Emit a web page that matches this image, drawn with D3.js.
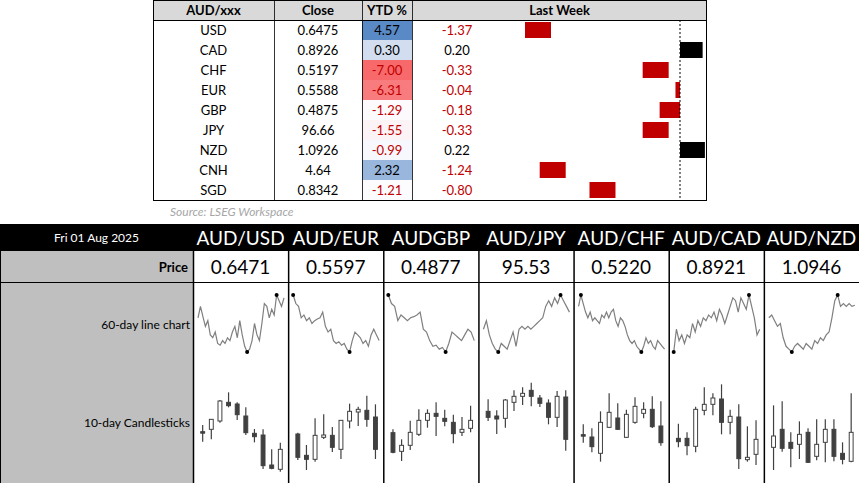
<!DOCTYPE html>
<html>
<head>
<meta charset="utf-8">
<script src="https://cdn.jsdelivr.net/npm/d3@7"></script>
<style>
  body { margin: 0; background: #fff; }
  svg { display: block; font-family: Lato, "Open Sans", sans-serif; }
</style>
</head>
<body>
<svg id="chart" width="859" height="483"></svg>
<script>
// top table
const ccys = ['USD', 'CAD', 'CHF', 'EUR', 'GBP', 'JPY', 'NZD', 'CNH', 'SGD']
const closes = ['0.6475', '0.8926', '0.5197', '0.5588', '0.4875', '96.66', '1.0926', '4.64', '0.8342']
const ytd = [4.57, 0.30, -7.00, -6.31, -1.29, -1.55, -0.99, 2.32, -1.21]
const lastWeek = [-1.37, 0.20, -0.33, -0.04, -0.18, -0.33, 0.22, -1.24, -0.80]

// bottom panel
const pairs = ['AUD/USD', 'AUD/EUR', 'AUDGBP', 'AUD/JPY', 'AUD/CHF', 'AUD/CAD', 'AUD/NZD']
const prices = ['0.6471', '0.5597', '0.4877', '95.53', '0.5220', '0.8921', '1.0946']
const dateLabel = 'Fri 01 Aug 2025'

// 60-day lines, relative level (0 = low of period, 100 = high)
const lines = [
  [60, 80, 62, 45, 55, 30, 25, 35, 15, 12, 20, 15, 25, 20, 35, 45, 25, 55, 30, 10, 0, 5, 20, 50, 30, 20, 50, 85, 80, 60, 75, 65, 100, 90, 80, 95],
  [100, 85, 80, 60, 65, 55, 60, 50, 55, 58, 60, 70, 45, 35, 40, 20, 15, 18, 12, 15, 5, 0, 20, 35, 30, 25, 15, 20, 10, 30, 40, 30, 20],
  [100, 85, 80, 55, 65, 60, 55, 60, 62, 65, 70, 40, 35, 20, 10, 12, 5, 8, 0, 15, 35, 30, 25, 20, 30, 40, 35, 20],
  [40, 55, 30, 15, 5, 0, 15, 10, 5, 20, 35, 10, 40, 45, 40, 45, 40, 45, 50, 55, 60, 80, 90, 80, 95, 85, 100, 90, 80, 70],
  [80, 100, 85, 70, 60, 70, 55, 60, 55, 50, 65, 60, 70, 60, 70, 75, 55, 45, 60, 55, 45, 30, 20, 15, 20, 10, 5, 0, 10, 25, 15, 20, 10, 5, 20, 15, 10, 5],
  [0, 40, 20, 30, 15, 30, 25, 50, 35, 55, 45, 60, 55, 65, 60, 70, 55, 75, 65, 50, 65, 80, 95, 90, 70, 95, 85, 75, 100, 80, 60, 30, 40],
  [60, 65, 55, 45, 50, 25, 10, 5, 0, 10, 15, 10, 5, 15, 10, 5, 20, 15, 25, 20, 30, 35, 60, 90, 100, 80, 85, 80, 85, 80, 82]
]

// 10-day candles [open, high, low, close], shared relative units
const candles = [
  [[145, 165, 115, 144], [152, 182, 122, 182], [177, 240, 172, 237], [233, 263, 218, 223], [228, 233, 180, 196], [192, 218, 135, 142], [140, 153, 113, 130], [135, 152, 33, 43], [45, 92, 32, 35], [32, 112, 25, 92]],
  [[138, 142, 60, 68], [74, 105, 30, 62], [62, 185, 55, 134], [128, 197, 123, 135], [134, 159, 84, 98], [92, 179, 63, 179], [177, 229, 155, 206], [204, 220, 162, 212], [209, 253, 160, 182], [189, 227, 63, 92]],
  [[142, 152, 80, 83], [86, 122, 57, 104], [104, 178, 90, 143], [137, 212, 132, 179], [179, 212, 157, 200], [200, 233, 132, 191], [185, 211, 161, 176], [173, 196, 110, 139], [143, 189, 132, 152], [155, 223, 143, 179]],
  [[206, 242, 177, 188], [192, 209, 138, 183], [185, 243, 157, 240], [233, 269, 207, 251], [251, 278, 225, 260], [269, 292, 221, 251], [246, 255, 219, 230], [231, 242, 167, 188], [188, 267, 159, 251], [249, 269, 88, 122]],
  [[136, 167, 112, 135], [129, 155, 83, 100], [80, 206, 55, 173], [158, 260, 156, 203], [186, 230, 150, 152], [128, 211, 126, 197], [173, 248, 169, 221], [200, 233, 185, 212], [212, 251, 156, 160], [162, 236, 103, 112]],
  [[125, 169, 98, 115], [125, 143, 74, 103], [101, 220, 83, 212], [209, 278, 194, 227], [227, 260, 194, 246], [243, 287, 137, 173], [173, 211, 137, 191], [189, 227, 33, 64], [61, 161, 55, 68], [77, 179, 45, 122]],
  [[98, 224, 30, 132], [152, 236, 85, 95], [113, 143, 38, 95], [107, 176, 63, 137], [143, 155, 52, 53], [71, 182, 59, 107], [113, 182, 53, 152], [152, 182, 56, 71], [80, 113, 47, 62], [56, 260, 53, 143]]
]

const svg = d3.select('#chart')
const RED = '#c00000'

// ---------- top table ----------
const T = { x: 153, y: 0, w: 554, rowH: 20 }
const colX = [153, 274, 362, 412, 707]
const tbl = svg.append('g')

tbl.append('rect').attr('x', T.x).attr('y', 0).attr('width', T.w).attr('height', T.rowH).attr('fill', '#d9d9d9')

const ytdColor = d3.scaleLinear()
  .domain([d3.min(ytd), d3.median(ytd), d3.max(ytd)])
  .range(['#f8696b', '#fcfcff', '#5a8ac6'])

const rowY = i => T.y + T.rowH * (i + 1)

tbl.selectAll('.ytdcell').data(ytd).enter().append('rect')
  .attr('x', colX[2]).attr('y', (d, i) => rowY(i))
  .attr('width', colX[3] - colX[2]).attr('height', T.rowH)
  .attr('fill', d => ytdColor(d))

const headers = ['AUD/xxx', 'Close', 'YTD %', 'Last Week']
tbl.selectAll('.hdr').data(headers).enter().append('text')
  .attr('x', (d, i) => (colX[i] + colX[i + 1]) / 2)
  .attr('y', 15).attr('text-anchor', 'middle')
  .attr('font-size', 13).attr('font-weight', 'bold').text(d => d)

const cell = (data, x, color) => tbl.selectAll(null).data(data).enter().append('text')
  .attr('x', x).attr('y', (d, i) => rowY(i) + 15)
  .attr('text-anchor', 'middle').attr('font-size', 13)
  .attr('fill', color).text(d => d)

cell(ccys, (colX[0] + colX[1]) / 2, '#000')
cell(closes, (colX[1] + colX[2]) / 2, '#000')
cell(ytd.map(d => d.toFixed(2)), (colX[2] + colX[3]) / 2, d => +d < 0 ? RED : '#000')
cell(lastWeek.map(d => d.toFixed(2)), 457, d => +d < 0 ? RED : '#000')

const lw = d3.scaleLinear().domain([0, -1.37]).range([680, 525])
tbl.selectAll('.lwbar').data(lastWeek).enter().append('rect')
  .attr('x', d => Math.min(lw(d), lw(0)))
  .attr('y', (d, i) => rowY(i) + 2)
  .attr('width', d => Math.min(Math.abs(lw(d) - lw(0)), 706 - lw(0)))
  .attr('height', T.rowH - 4)
  .attr('fill', d => d < 0 ? RED : '#000')

tbl.append('line').attr('x1', lw(0)).attr('x2', lw(0)).attr('y1', 20).attr('y2', 200)
  .attr('stroke', '#000').attr('stroke-dasharray', '2,2')

tbl.append('rect').attr('x', T.x + 0.5).attr('y', 0.5).attr('width', T.w - 1).attr('height', 200)
  .attr('fill', 'none').attr('stroke', '#000')
tbl.append('line').attr('x1', T.x).attr('x2', T.x + T.w).attr('y1', 20.5).attr('y2', 20.5).attr('stroke', '#000')
tbl.selectAll('.vl').data(colX.slice(1, 4)).enter().append('line')
  .attr('x1', d => d + 0.5).attr('x2', d => d + 0.5).attr('y1', 0).attr('y2', 200)
  .attr('stroke', '#000').attr('stroke-width', 0.8)

tbl.append('text').attr('x', 170).attr('y', 216).attr('font-size', 12)
  .attr('font-style', 'italic').attr('fill', '#a6a6a6').text('Source: LSEG Workspace')

// ---------- bottom panel ----------
const B = { band: 224, priceY: 250, panelY: 282, bottom: 483, left: 193 }
const x0 = d3.scaleBand().domain(pairs).range([B.left, 859])
const bot = svg.append('g')

bot.append('rect').attr('x', 0).attr('y', B.band).attr('width', 859).attr('height', B.priceY - B.band).attr('fill', '#000')
bot.append('rect').attr('x', 0).attr('y', B.priceY).attr('width', B.left).attr('height', B.bottom - B.priceY).attr('fill', '#bfbfbf')

bot.append('text').attr('x', B.left / 2).attr('y', 242).attr('text-anchor', 'middle')
  .attr('font-size', 12).attr('fill', '#fff').text(dateLabel)
bot.selectAll('.pair').data(pairs).enter().append('text')
  .attr('x', d => x0(d) + x0.bandwidth() / 2).attr('y', 245).attr('text-anchor', 'middle')
  .attr('font-size', 19).attr('fill', '#fff').text(d => d)

bot.append('text').attr('x', 188).attr('y', 272).attr('text-anchor', 'end')
  .attr('font-size', 13).attr('font-weight', 'bold').text('Price')
bot.selectAll('.price').data(prices).enter().append('text')
  .attr('x', (d, i) => x0(pairs[i]) + x0.bandwidth() / 2).attr('y', 274).attr('text-anchor', 'middle')
  .attr('font-size', 19).text(d => d)

bot.append('text').attr('x', 190).attr('y', 329).attr('text-anchor', 'end').attr('font-size', 12).text('60-day line chart')
bot.append('text').attr('x', 190).attr('y', 427).attr('text-anchor', 'end').attr('font-size', 12).text('10-day Candlesticks')

// grid lines
bot.append('line').attr('x1', 0).attr('x2', 859).attr('y1', B.panelY + 0.5).attr('y2', B.panelY + 0.5).attr('stroke', '#000')
bot.append('line').attr('x1', 0).attr('x2', 859).attr('y1', B.priceY + 0.5).attr('y2', B.priceY + 0.5).attr('stroke', '#000')
bot.selectAll('.cv').data(pairs).enter().append('line')
  .attr('x1', d => x0(d) + 0.5).attr('x2', d => x0(d) + 0.5)
  .attr('y1', B.priceY).attr('y2', B.bottom).attr('stroke', '#000').attr('stroke-width', 1.5)
bot.append('line').attr('x1', 0.5).attr('x2', 0.5).attr('y1', B.priceY).attr('y2', B.bottom).attr('stroke', '#000')

// sparklines
const ly = d3.scaleLinear().domain([0, 100]).range([352, 295])
lines.forEach((series, k) => {
  const col = x0(pairs[k])
  const lx = d3.scaleLinear().domain([0, series.length - 1]).range([col + 5, col + 91])
  const g = bot.append('g')
  g.append('path').datum(series)
    .attr('d', d3.line().x((d, i) => lx(i)).y(d => ly(d)))
    .attr('fill', 'none').attr('stroke', '#7f7f7f').attr('stroke-width', 1.2)
  const extremes = [d3.minIndex(series), d3.maxIndex(series)]
  g.selectAll('circle').data(extremes).enter().append('circle')
    .attr('cx', i => lx(i)).attr('cy', i => ly(series[i])).attr('r', 2).attr('fill', '#000')
})

// candlesticks
const cy = d3.scaleLinear().domain([0, 600]).range([480, 280])
candles.forEach((set, k) => {
  const col = x0(pairs[k])
  const cx = d3.scaleBand().domain(d3.range(set.length)).range([col + 3, col + 94]).padding(0.55)
  const g = bot.append('g')
  set.forEach((c, i) => {
    const [o, h, l, cl] = c
    const mid = cx(i) + cx.bandwidth() / 2
    const up = cl >= o
    g.append('line').attr('x1', mid).attr('x2', mid).attr('y1', cy(h)).attr('y2', cy(l))
      .attr('stroke', '#404040').attr('stroke-width', 1.2)
    g.append('rect').attr('x', cx(i)).attr('y', cy(Math.max(o, cl)))
      .attr('width', cx.bandwidth()).attr('height', Math.max(1.5, Math.abs(cy(o) - cy(cl))))
      .attr('fill', up ? '#fff' : '#404040').attr('stroke', '#404040').attr('stroke-width', 1)
  })
})
</script>
</body>
</html>
